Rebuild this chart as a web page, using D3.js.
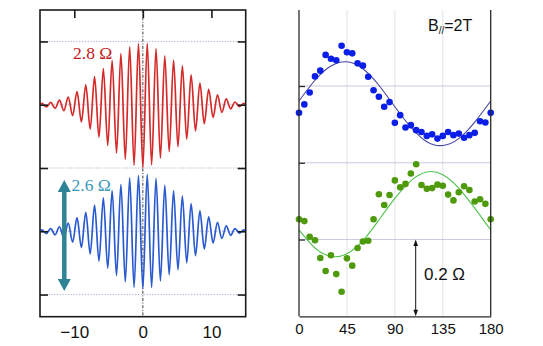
<!DOCTYPE html>
<html>
<head>
<meta charset="utf-8">
<script src="https://cdn.jsdelivr.net/npm/d3@7"></script>
<style>
  html, body { margin: 0; padding: 0; background: #fff; }
  svg { display: block; font-family: "Liberation Sans", Arial, sans-serif; }
</style>
</head>
<body>
<svg id="chart" width="543" height="346"></svg>
<script>
// ---- Left panel: oscillation traces (extrema positions and values, Ω) ----
const fieldX = [-15, -14.72, -14.08, -13.44, -12.80, -12.16, -11.52, -10.88, -10.24, -9.60, -8.96,
  -8.32, -7.68, -7.04, -6.40, -5.76, -5.12, -4.48, -3.84, -3.20, -2.56, -1.92, -1.28, -0.64, 0,
  0.64, 1.28, 1.92, 2.56, 3.20, 3.84, 4.48, 5.12, 5.76, 6.40, 7.04, 7.68, 8.32, 8.96, 9.60,
  10.24, 10.88, 11.52, 12.16, 12.80, 13.44, 14.08, 14.72, 15];
const redDelta = [0, 0.03, -0.05, 0.05, -0.08, 0.10, -0.13, 0.17, -0.24, 0.29, -0.38,
  0.44, -0.54, 0.62, -0.72, 0.80, -0.90, 0.98, -1.07, 1.13, -1.21, 1.28, -1.34, 1.35, -1.39,
  1.36, -1.33, 1.24, -1.18, 1.08, -1.04, 0.99, -0.93, 0.86, -0.76, 0.66, -0.58, 0.48, -0.42, 0.34,
  -0.28, 0.22, -0.17, 0.13, -0.09, 0.06, -0.04, 0.03, 0];
const blueDelta = [0, 0.03, -0.05, 0.06, -0.08, 0.10, -0.14, 0.18, -0.24, 0.30, -0.36,
  0.42, -0.50, 0.58, -0.66, 0.74, -0.82, 0.90, -0.98, 1.04, -1.12, 1.18, -1.24, 1.24, -1.27,
  1.26, -1.24, 1.17, -1.10, 1.02, -0.96, 0.90, -0.85, 0.78, -0.70, 0.61, -0.54, 0.45, -0.39, 0.32,
  -0.26, 0.20, -0.16, 0.12, -0.09, 0.06, -0.04, 0.03, 0];
const redBaseline = 1.4;
const blueBaseline = -1.4;
const leftXTicks = [-10, 0, 10];
const leftXTickLabels = ["\u221210", "0", "10"];
const leftYTicks = [-2.8, -1.4, 0, 1.4, 2.8];

// ---- Right panel: angle dependence (Ω) ----
const angles = [0, 5, 10, 15, 20, 25, 30, 35, 40, 45, 50, 55, 60, 65, 70, 75, 80, 85, 90,
  95, 100, 105, 110, 115, 120, 125, 130, 135, 140, 145, 150, 155, 160, 165, 170, 175, 180];
const blueR = [0.530, 0.552, 0.583, 0.625, 0.640, 0.681, 0.671, 0.667, 0.705, 0.688, 0.685,
  0.659, 0.653, 0.624, 0.589, 0.572, 0.546, 0.558, 0.504, 0.524, 0.492, 0.498, 0.485, 0.480,
  0.470, 0.474, 0.463, 0.470, 0.480, 0.472, 0.476, 0.465, 0.472, 0.478, 0.508, 0.505, 0.530];
const greenR = [0.253, 0.248, 0.207, 0.198, 0.152, 0.118, 0.159, 0.110, 0.064, 0.151, 0.132,
  0.178, 0.195, 0.197, 0.253, 0.318, 0.290, 0.316, 0.354, 0.336, 0.345, 0.372, 0.396, 0.342,
  0.332, 0.334, 0.343, 0.340, 0.317, 0.302, 0.323, 0.339, 0.329, 0.299, 0.305, 0.293, 0.253];
const fitAngles = [0, 15, 30, 45, 60, 75, 90, 105, 120, 135, 150, 165, 180];
const blueFit = [0.561, 0.615, 0.652, 0.663, 0.645, 0.602, 0.546, 0.493, 0.455, 0.445, 0.463, 0.506, 0.561];
const greenFit = [0.225, 0.178, 0.156, 0.163, 0.197, 0.251, 0.307, 0.353, 0.376, 0.369, 0.334, 0.282, 0.225];
const rightXTicks = [0, 45, 90, 135, 180];
const rightYGrid = [0.2, 0.4, 0.6];
const scaleBar = [0, 0.2];

const svg = d3.select("#chart");
const SANS = "'Liberation Sans', Arial, sans-serif";
const SERIF = "'Liberation Serif', 'Times New Roman', serif";

// ================= Left panel =================
const L = { x0: 40, x1: 245.7, y0: 10, y1: 316.7 };
const xL = d3.scaleLinear().domain([-15, 15]).range([L.x0, L.x1]);
const yL = d3.scaleLinear().domain([-3.29, 3.496]).range([L.y1, L.y0]);

const left = svg.append("g");

// dotted reference lines
left.selectAll("line.ref").data(leftYTicks).join("line")
  .attr("x1", L.x0).attr("x2", L.x1)
  .attr("y1", d => yL(d)).attr("y2", d => yL(d))
  .attr("stroke", "#a4a4cc").attr("stroke-width", 0.9)
  .attr("stroke-dasharray", "1.2,1.6");

// zero-field dash-dot line
left.append("line")
  .attr("x1", xL(0)).attr("x2", xL(0)).attr("y1", L.y0).attr("y2", L.y1)
  .attr("stroke", "#3a3a3a").attr("stroke-width", 1)
  .attr("stroke-dasharray", "3,1.6,1,1.6");

const trace = (delta, base) => fieldX.map((x, i) => ({ x, v: base + delta[i] }));
const lineL = d3.line().x(d => xL(d.x)).y(d => yL(d.v)).curve(d3.curveMonotoneX);

left.append("path").datum(trace(redDelta, redBaseline))
  .attr("d", lineL).attr("fill", "none")
  .attr("stroke", "#d42a2a").attr("stroke-width", 1.7);
left.append("path").datum(trace(blueDelta, blueBaseline))
  .attr("d", lineL).attr("fill", "none")
  .attr("stroke", "#2a5ad0").attr("stroke-width", 1.7);

// frame and inner ticks
left.append("rect")
  .attr("x", L.x0).attr("y", L.y0).attr("width", L.x1 - L.x0).attr("height", L.y1 - L.y0)
  .attr("fill", "none").attr("stroke", "#1a1a1a").attr("stroke-width", 1.6);

const styleTicks = g => {
  g.select(".domain").remove();
  g.selectAll(".tick line").attr("stroke", "#1a1a1a").attr("stroke-width", 1.6);
  g.selectAll(".tick text").remove();
};
left.append("g").attr("transform", `translate(0,${L.y0})`)
  .call(d3.axisTop(xL).tickValues(leftXTicks).tickSize(-8)).call(styleTicks);
left.append("g").attr("transform", `translate(${L.x0},0)`)
  .call(d3.axisLeft(yL).tickValues(leftYTicks).tickSize(-8)).call(styleTicks);
left.append("g").attr("transform", `translate(${L.x1},0)`)
  .call(d3.axisRight(yL).tickValues(leftYTicks).tickSize(-8)).call(styleTicks);

// tick labels
const axL = left.append("g").attr("transform", `translate(0,${L.y1})`)
  .call(d3.axisBottom(xL).tickValues(leftXTicks)
    .tickFormat((d, i) => leftXTickLabels[i]).tickSize(0).tickPadding(0));
axL.select(".domain").remove();
axL.selectAll(".tick text")
  .attr("y", 21).attr("dy", 0)
  .style("font-family", SANS).style("font-size", "17px").attr("fill", "#111");

// amplitude annotations
left.append("text").attr("x", 73).attr("y", 59)
  .style("font-family", SERIF).style("font-size", "17.5px")
  .attr("fill", "#c41a1a").text("2.8 \u03A9");
left.append("text").attr("x", 71.5).attr("y", 191)
  .style("font-family", SERIF).style("font-size", "17.5px")
  .attr("fill", "#3a98b8").text("2.6 \u03A9");

// teal double-headed arrow
const ax = 64.3, aTop = 180, aBot = 291, head = 12, hw = 6.5;
const arrowCol = "#2e8494";
left.append("line").attr("x1", ax).attr("x2", ax)
  .attr("y1", aTop + head - 1).attr("y2", aBot - head + 1)
  .attr("stroke", arrowCol).attr("stroke-width", 4.5);
left.append("path")
  .attr("d", `M${ax},${aTop} L${ax - hw},${aTop + head} L${ax + hw},${aTop + head} Z`)
  .attr("fill", arrowCol);
left.append("path")
  .attr("d", `M${ax},${aBot} L${ax - hw},${aBot - head} L${ax + hw},${aBot - head} Z`)
  .attr("fill", arrowCol);

// ================= Right panel =================
const R = { x0: 299, x1: 490.7, y0: 10, y1: 316.3 };
const xR = d3.scaleLinear().domain([0, 180]).range([R.x0, R.x1]);
const yR = d3.scaleLinear().domain([0, 0.798]).range([R.y1, R.y0]);

const right = svg.append("g");

// grid
right.selectAll("line.vg").data(rightXTicks.slice(1, -1)).join("line")
  .attr("x1", d => xR(d)).attr("x2", d => xR(d)).attr("y1", R.y0).attr("y2", R.y1)
  .attr("stroke", "#e2e2ea").attr("stroke-width", 1);
right.selectAll("line.hg").data(rightYGrid).join("line")
  .attr("x1", R.x0).attr("x2", R.x1).attr("y1", d => yR(d)).attr("y2", d => yR(d))
  .attr("stroke", "#c9c9e2").attr("stroke-width", 1);

// fits
const fitLine = d3.line().x(d => xR(d.a)).y(d => yR(d.v)).curve(d3.curveNatural);
right.append("path").datum(fitAngles.map((a, i) => ({ a, v: blueFit[i] })))
  .attr("d", fitLine).attr("fill", "none")
  .attr("stroke", "#4646a6").attr("stroke-width", 1.1);
right.append("path").datum(fitAngles.map((a, i) => ({ a, v: greenFit[i] })))
  .attr("d", fitLine).attr("fill", "none")
  .attr("stroke", "#4ec24e").attr("stroke-width", 1.1);

// points
right.selectAll("circle.b").data(angles.map((a, i) => ({ a, v: blueR[i] }))).join("circle")
  .attr("cx", d => xR(d.a)).attr("cy", d => yR(d.v)).attr("r", 3.3)
  .attr("fill", "#0a1ee8");
right.selectAll("circle.g").data(angles.map((a, i) => ({ a, v: greenR[i] }))).join("circle")
  .attr("cx", d => xR(d.a)).attr("cy", d => yR(d.v)).attr("r", 3.3)
  .attr("fill", "#4f9a0c");

// axes lines
right.append("line").attr("x1", R.x0).attr("x2", R.x0).attr("y1", R.y0).attr("y2", R.y1)
  .attr("stroke", "#2a2a2a").attr("stroke-width", 1.3);
right.append("line").attr("x1", R.x1).attr("x2", R.x1).attr("y1", R.y0).attr("y2", R.y1)
  .attr("stroke", "#2a2a2a").attr("stroke-width", 1.3);
right.append("g").attr("transform", `translate(${R.x0},0)`)
  .call(d3.axisLeft(yR).tickValues(rightYGrid).tickSize(-6))
  .call(g => {
    g.select(".domain").remove();
    g.selectAll(".tick line").attr("stroke", "#2a2a2a").attr("stroke-width", 1.3);
    g.selectAll(".tick text").remove();
  });
const axR = right.append("g").attr("transform", `translate(0,${R.y1})`)
  .call(d3.axisBottom(xR).tickValues(rightXTicks).tickSize(0).tickPadding(0));
axR.select(".domain").attr("stroke", "#2a2a2a").attr("stroke-width", 1.3);
axR.selectAll(".tick text")
  .attr("y", 18).attr("dy", 0)
  .style("font-family", SANS).style("font-size", "15px").attr("fill", "#111");

// 0.2 Ω scale bar
const sbX = 415.7;
right.append("line").attr("x1", sbX).attr("x2", sbX)
  .attr("y1", yR(scaleBar[1]) + 5).attr("y2", yR(scaleBar[0]) - 5)
  .attr("stroke", "#111").attr("stroke-width", 1);
right.append("path")
  .attr("d", `M${sbX},${yR(scaleBar[1])} l-2.3,6.5 l4.6,0 Z`).attr("fill", "#111");
right.append("path")
  .attr("d", `M${sbX},${yR(scaleBar[0])} l-2.3,-6.5 l4.6,0 Z`).attr("fill", "#111");
right.append("text").attr("x", 424).attr("y", 279.5)
  .style("font-family", SANS).style("font-size", "17px")
  .attr("fill", "#111").text("0.2 \u03A9");

// field label
const lab = right.append("text").attr("x", 428).attr("y", 30.5)
  .style("font-family", SANS).style("font-size", "16px").attr("fill", "#111");
lab.append("tspan").text("B");
lab.append("tspan").style("font-size", "10px").attr("dy", 3).text("//");
lab.append("tspan").attr("dy", -3).text("=2T");
</script>
</body>
</html>
